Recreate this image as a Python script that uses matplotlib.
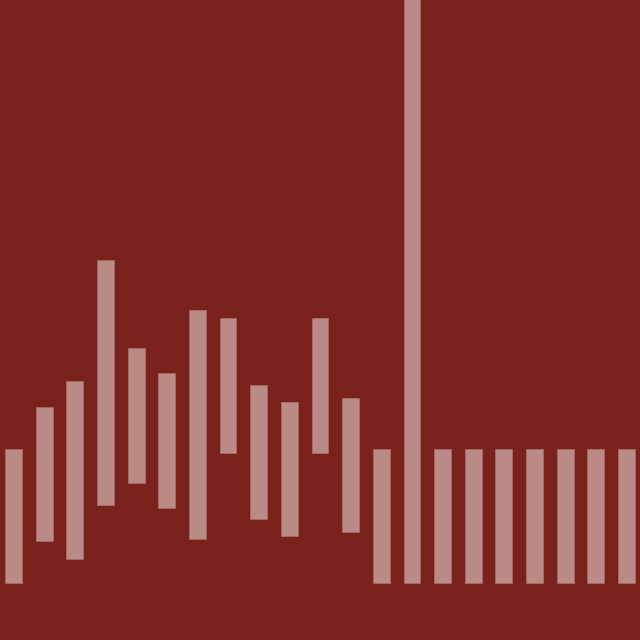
import numpy as np
import matplotlib
matplotlib.use("Agg")
import matplotlib.pyplot as plt

# floating bars: bottom and top of each bar
bar_bottom = [0, 31, 18, 58, 75, 56, 33, 97, 48, 35, 97, 38, 0, 0,
              0, 0, 0, 0, 0, 0, 0]
bar_top = [100, 131, 151, 241, 175, 157, 204, 198, 148, 135, 198, 138, 100, 460,
           100, 100, 100, 100, 100, 100, 100]

bg_color = '#7B211B'
bar_color = '#BA8A86'

x = np.arange(len(bar_top))
heights = np.array(bar_top) - np.array(bar_bottom)

fig = plt.figure(figsize=(6.4, 6.4), dpi=100, facecolor=bg_color)
ax = fig.add_axes([0, 0, 1, 1])
ax.set_facecolor(bg_color)

ax.bar(x, heights, bottom=bar_bottom, width=0.55, color=bar_color,
       edgecolor='#A86E69', linewidth=0.6)

ax.set_xlim(-0.44, 20.44)
ax.set_ylim(-42.5, 435)
ax.axis('off')

fig.savefig('out.png', dpi=100, facecolor=bg_color)
